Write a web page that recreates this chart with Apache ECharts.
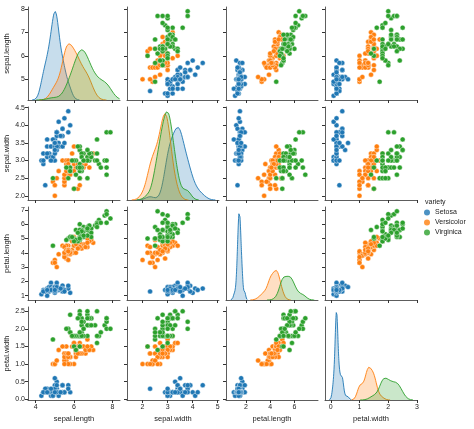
<!DOCTYPE html>
<html>
<head>
<meta charset="UTF-8">
<script src="https://cdn.jsdelivr.net/npm/echarts@6/dist/echarts.min.js"></script>
</head>
<body style="margin:0">
<div id="main" style="width:474px;height:429px;"></div>
<script>
// iris: sepal.length, sepal.width, petal.length, petal.width
var setosa = [[5.1,3.5,1.4,0.2],[4.9,3.0,1.4,0.2],[4.7,3.2,1.3,0.2],[4.6,3.1,1.5,0.2],[5.0,3.6,1.4,0.2],[5.4,3.9,1.7,0.4],[4.6,3.4,1.4,0.3],[5.0,3.4,1.5,0.2],[4.4,2.9,1.4,0.2],[4.9,3.1,1.5,0.1],
[5.4,3.7,1.5,0.2],[4.8,3.4,1.6,0.2],[4.8,3.0,1.4,0.1],[4.3,3.0,1.1,0.1],[5.8,4.0,1.2,0.2],[5.7,4.4,1.5,0.4],[5.4,3.9,1.3,0.4],[5.1,3.5,1.4,0.3],[5.7,3.8,1.7,0.3],[5.1,3.8,1.5,0.3],
[5.4,3.4,1.7,0.2],[5.1,3.7,1.5,0.4],[4.6,3.6,1.0,0.2],[5.1,3.3,1.7,0.5],[4.8,3.4,1.9,0.2],[5.0,3.0,1.6,0.2],[5.0,3.4,1.6,0.4],[5.2,3.5,1.5,0.2],[5.2,3.4,1.4,0.2],[4.7,3.2,1.6,0.2],
[4.8,3.1,1.6,0.2],[5.4,3.4,1.5,0.4],[5.2,4.1,1.5,0.1],[5.5,4.2,1.4,0.2],[4.9,3.1,1.5,0.2],[5.0,3.2,1.2,0.2],[5.5,3.5,1.3,0.2],[4.9,3.6,1.4,0.1],[4.4,3.0,1.3,0.2],[5.1,3.4,1.5,0.2],
[5.0,3.5,1.3,0.3],[4.5,2.3,1.3,0.3],[4.4,3.2,1.3,0.2],[5.0,3.5,1.6,0.6],[5.1,3.8,1.9,0.4],[4.8,3.0,1.4,0.3],[5.1,3.8,1.6,0.2],[4.6,3.2,1.4,0.2],[5.3,3.7,1.5,0.2],[5.0,3.3,1.4,0.2]];
var versicolor = [[7.0,3.2,4.7,1.4],[6.4,3.2,4.5,1.5],[6.9,3.1,4.9,1.5],[5.5,2.3,4.0,1.3],[6.5,2.8,4.6,1.5],[5.7,2.8,4.5,1.3],[6.3,3.3,4.7,1.6],[4.9,2.4,3.3,1.0],[6.6,2.9,4.6,1.3],[5.2,2.7,3.9,1.4],
[5.0,2.0,3.5,1.0],[5.9,3.0,4.2,1.5],[6.0,2.2,4.0,1.0],[6.1,2.9,4.7,1.4],[5.6,2.9,3.6,1.3],[6.7,3.1,4.4,1.4],[5.6,3.0,4.5,1.5],[5.8,2.7,4.1,1.0],[6.2,2.2,4.5,1.5],[5.6,2.5,3.9,1.1],
[5.9,3.2,4.8,1.8],[6.1,2.8,4.0,1.3],[6.3,2.5,4.9,1.5],[6.1,2.8,4.7,1.2],[6.4,2.9,4.3,1.3],[6.6,3.0,4.4,1.4],[6.8,2.8,4.8,1.4],[6.7,3.0,5.0,1.7],[6.0,2.9,4.5,1.5],[5.7,2.6,3.5,1.0],
[5.5,2.4,3.8,1.1],[5.5,2.4,3.7,1.0],[5.8,2.7,3.9,1.2],[6.0,2.7,5.1,1.6],[5.4,3.0,4.5,1.5],[6.0,3.4,4.5,1.6],[6.7,3.1,4.7,1.5],[6.3,2.3,4.4,1.3],[5.6,3.0,4.1,1.3],[5.5,2.5,4.0,1.3],
[5.5,2.6,4.4,1.2],[6.1,3.0,4.6,1.4],[5.8,2.6,4.0,1.2],[5.0,2.3,3.3,1.0],[5.6,2.7,4.2,1.3],[5.7,3.0,4.2,1.2],[5.7,2.9,4.2,1.3],[6.2,2.9,4.3,1.3],[5.1,2.5,3.0,1.1],[5.7,2.8,4.1,1.3]];
var virginica = [[6.3,3.3,6.0,2.5],[5.8,2.7,5.1,1.9],[7.1,3.0,5.9,2.1],[6.3,2.9,5.6,1.8],[6.5,3.0,5.8,2.2],[7.6,3.0,6.6,2.1],[4.9,2.5,4.5,1.7],[7.3,2.9,6.3,1.8],[6.7,2.5,5.8,1.8],[7.2,3.6,6.1,2.5],
[6.5,3.2,5.1,2.0],[6.4,2.7,5.3,1.9],[6.8,3.0,5.5,2.1],[5.7,2.5,5.0,2.0],[5.8,2.8,5.1,2.4],[6.4,3.2,5.3,2.3],[6.5,3.0,5.5,1.8],[7.7,3.8,6.7,2.2],[7.7,2.6,6.9,2.3],[6.0,2.2,5.0,1.5],
[6.9,3.2,5.7,2.3],[5.6,2.8,4.9,2.0],[7.7,2.8,6.7,2.0],[6.3,2.7,4.9,1.8],[6.7,3.3,5.7,2.1],[7.2,3.2,6.0,1.8],[6.2,2.8,4.8,1.8],[6.1,3.0,4.9,1.8],[6.4,2.8,5.6,2.1],[7.2,3.0,5.8,1.6],
[7.4,2.8,6.1,1.9],[7.9,3.8,6.4,2.0],[6.4,2.8,5.6,2.2],[6.3,2.8,5.1,1.5],[6.1,2.6,5.6,1.4],[7.7,3.0,6.1,2.3],[6.3,3.4,5.6,2.4],[6.4,3.1,5.5,1.8],[6.0,3.0,4.8,1.8],[6.9,3.1,5.4,2.1],
[6.7,3.1,5.6,2.4],[6.9,3.1,5.1,2.3],[5.8,2.7,5.1,1.9],[6.8,3.2,5.9,2.3],[6.7,3.3,5.7,2.5],[6.7,3.0,5.2,2.3],[6.3,2.5,5.0,1.9],[6.5,3.0,5.2,2.0],[6.2,3.4,5.4,2.3],[5.9,3.0,5.1,1.8]];

var features = ['sepal.length', 'sepal.width', 'petal.length', 'petal.width'];
var speciesNames = ['Setosa', 'Versicolor', 'Virginica'];
var colors = ['#1f77b4', '#ff7f0e', '#2ca02c'];
// x range per column (includes kde extent), y range per row (scatter)
var xRange = [[3.6, 8.4], [1.38, 5.05], [0.35, 7.95], [-0.2, 3.0]];
var yRange = [[4.12, 8.08], [1.88, 4.52], [0.7, 7.2], [-0.02, 2.62]];
var xTicks = [[4, 6, 8], [2, 3, 4, 5], [2, 4, 6, 8], [0, 1, 2, 3]];
var yTicks = [[5, 6, 7, 8], [2.0, 2.5, 3.0, 3.5, 4.0, 4.5], [1, 2, 3, 4, 5, 6, 7], [0.0, 0.5, 1.0, 1.5, 2.0, 2.5]];
var yFmt = [0, 1, 0, 1];

var groups = [setosa, versicolor, virginica];

function kde(vals, lo, hi) {
    var n = vals.length, m = 0, s = 0;
    vals.forEach(function (v) { m += v; });
    m /= n;
    vals.forEach(function (v) { s += (v - m) * (v - m); });
    var bw = Math.sqrt(s / (n - 1)) * Math.pow(n, -0.2);
    var a = Math.max(lo, Math.min.apply(null, vals) - 3 * bw);
    var b = Math.min(hi, Math.max.apply(null, vals) + 3 * bw);
    var out = [];
    for (var i = 0; i <= 200; i++) {
        var x = a + (b - a) * i / 200, d = 0;
        vals.forEach(function (v) { var z = (x - v) / bw; d += Math.exp(-0.5 * z * z); });
        out.push([x, d / (n * bw * Math.sqrt(2 * Math.PI)) / 3]);
    }
    return out;
}

var grids = [], xAxes = [], yAxes = [], series = [];
var axisCol = '#333';
for (var r = 0; r < 4; r++) {
    for (var c = 0; c < 4; c++) {
        var k = grids.length;
        grids.push({left: 28 + c * 99, top: 7 + r * 100, width: 92, height: 93});
        xAxes.push({
            type: 'value', gridIndex: k, min: xRange[c][0], max: xRange[c][1],
            splitLine: {show: false},
            axisLine: {show: true, onZero: false, lineStyle: {color: axisCol, width: 0.8}},
            axisTick: {show: true, length: 3, customValues: xTicks[c], lineStyle: {color: axisCol}},
            axisLabel: {show: r === 3, customValues: xTicks[c], fontSize: 7, color: '#222', margin: 4},
            name: r === 3 ? features[c] : '', nameLocation: 'middle', nameGap: 15,
            nameTextStyle: {fontSize: 7.5, color: '#222'}
        });
        var diag = r === c;
        var ymax = null;
        if (diag) {
            groups.forEach(function (g, gi) {
                var curve = kde(g.map(function (p) { return p[c]; }), xRange[c][0], xRange[c][1]);
                curve.forEach(function (p) { ymax = Math.max(ymax || 0, p[1]); });
                series.push({
                    type: 'line', xAxisIndex: k, yAxisIndex: k, data: curve, showSymbol: false,
                    smooth: false, lineStyle: {color: colors[gi], width: 0.9},
                    areaStyle: {color: colors[gi], opacity: 0.25}, silent: true, z: 2 + gi
                });
            });
        } else {
            groups.forEach(function (g, gi) {
                series.push({
                    type: 'scatter', xAxisIndex: k, yAxisIndex: k, symbolSize: 5,
                    data: g.map(function (p) { return [p[c], p[r]]; }),
                    itemStyle: {color: colors[gi], borderColor: '#fff', borderWidth: 0.4, opacity: 1},
                    z: 2 + gi
                });
            });
        }
        yAxes.push({
            type: 'value', gridIndex: k,
            min: diag ? 0 : yRange[r][0], max: diag ? ymax * 1.05 : yRange[r][1],
            splitLine: {show: false},
            axisLine: {show: true, onZero: false, lineStyle: {color: axisCol, width: 0.8}},
            axisTick: {show: true, length: 3, customValues: yTicks[r], lineStyle: {color: axisCol}},
            axisLabel: {show: c === 0, customValues: yTicks[r], fontSize: 7, color: '#222', margin: 3,
                formatter: (function (d) { return function (v) { return v.toFixed(d); }; })(yFmt[r])},
            name: c === 0 ? features[r] : '', nameLocation: 'middle', nameGap: 17, nameRotate: 90,
            nameTextStyle: {fontSize: 7.5, color: '#222'}
        });
        if (diag) {
            yAxes[k].axisTick.customValues = null;
            yAxes[k].axisTick.show = false;
            if (c === 0) {
                yAxes[k].axisLabel.show = false;
            }
        }
    }
}
// shared sepal.length labels over the top-left density panel
grids.push({left: 28, top: 7, width: 92, height: 93});
xAxes.push({type: 'value', gridIndex: 16, show: false, min: 0, max: 1});
yAxes.push({
    type: 'value', gridIndex: 16, min: yRange[0][0], max: yRange[0][1],
    splitLine: {show: false}, axisLine: {show: false},
    axisTick: {show: true, length: 3, customValues: yTicks[0], lineStyle: {color: axisCol}},
    axisLabel: {customValues: yTicks[0], fontSize: 7, color: '#222', margin: 3},
    name: features[0], nameLocation: 'middle', nameGap: 17, nameRotate: 90,
    nameTextStyle: {fontSize: 7.5, color: '#222'}
});
yAxes[0].name = '';

// legend dummy series
speciesNames.forEach(function (s, i) {
    series.push({name: s, type: 'scatter', xAxisIndex: 16, yAxisIndex: 16, data: [],
        itemStyle: {color: colors[i]}});
});

var chart = echarts.init(document.getElementById('main'));
chart.setOption({
    animation: false,
    backgroundColor: '#fff',
    title: {text: 'variety', left: 420, top: 194, textStyle: {fontSize: 7, fontWeight: 'normal', color: '#222'}},
    legend: {
        orient: 'vertical', left: 419, top: 204, itemWidth: 6, itemHeight: 6, itemGap: 3,
        icon: 'circle', textStyle: {fontSize: 7, color: '#222'}, data: speciesNames
    },
    grid: grids, xAxis: xAxes, yAxis: yAxes, series: series
});
</script>
</body>
</html>
